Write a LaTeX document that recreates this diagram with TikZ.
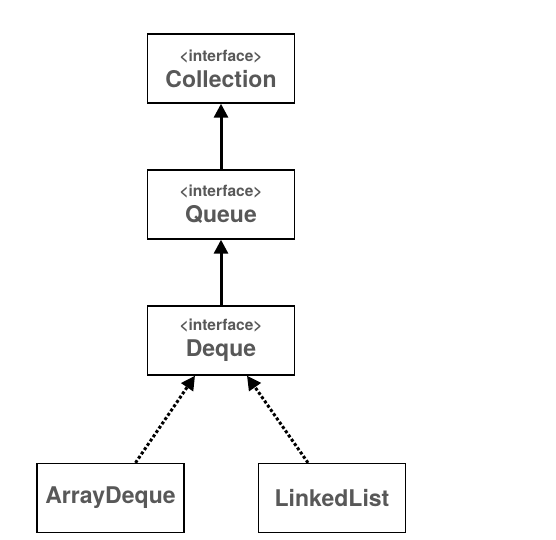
\documentclass[tikz,border=0pt]{standalone}
\usepackage{fontspec}
\setmainfont{TeX Gyre Heros}
\usetikzlibrary{arrows.meta,positioning}
\definecolor{labelgray}{RGB}{88,88,88}

\tikzset{
  classbox/.style={draw,line width=1.4pt,minimum width=147pt,minimum height=69pt,
    inner sep=0pt,align=center,text=labelgray,font=\bfseries\fontsize{23}{26}\selectfont},
  extends/.style={-{Triangle[length=14pt,width=14pt]},line width=3pt},
  implements/.style={-{Triangle[length=14pt,width=14pt]},line width=3pt,
    dash pattern=on 3pt off 2.2pt}
}
\newcommand{\iface}{{\fontsize{15.5}{18}\selectfont<interface>}\\[0pt]}

\begin{document}
\begin{tikzpicture}[x=1pt,y=-1pt]
  \useasboundingbox (0,0) rectangle (556,539);
  \node[classbox] (coll) at (221,68.5) {\iface Collection};
  \node[classbox] (queue) at (221,204.5) {\iface Queue};
  \node[classbox] (deque) at (221,340.5) {\iface Deque};
  \node[classbox] (adeque) at (110.5,498) {ArrayDeque};
  \node[classbox] (llist) at (332,498) {LinkedList};
  % inheritance between interfaces
  \draw[extends] (queue) -- (coll);
  \draw[extends] (deque) -- (queue);
  % implementations
  \draw[implements] ([xshift=25pt]adeque.north) -- ([xshift=-26pt]deque.south);
  \draw[implements] ([xshift=-24pt]llist.north) -- ([xshift=26pt]deque.south);
\end{tikzpicture}
\end{document}
